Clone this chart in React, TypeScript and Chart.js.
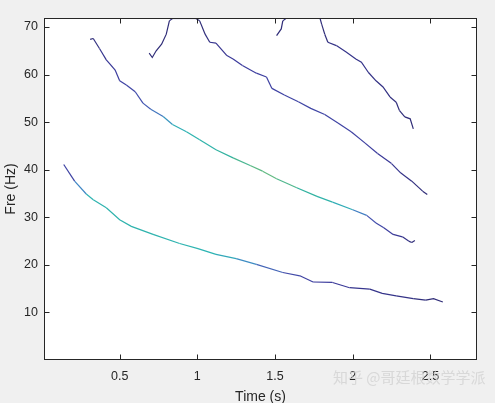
import React, { useEffect, useRef } from "react";
import { Chart, registerables } from "chart.js";

Chart.register(...registerables);

// ---- data ----
const X_TICKS = [0.5, 1, 1.5, 2, 2.5];
const Y_TICKS = [10, 20, 30, 40, 50, 60, 70];

const T1 = [0.14, 0.21, 0.285, 0.33, 0.414, 0.5, 0.575, 0.715, 0.886, 1.004, 1.12, 1.25, 1.38, 1.55, 1.66, 1.745, 1.87, 1.98, 2.11, 2.19, 2.28, 2.39, 2.47, 2.52, 2.58];
const F1 = [41.1, 37.6, 34.9, 33.7, 32.0, 29.5, 28.1, 26.4, 24.5, 23.4, 22.2, 21.3, 20.1, 18.4, 17.7, 16.4, 16.3, 15.2, 14.9, 14.0, 13.5, 12.9, 12.6, 12.9, 12.2];
const A1 = [0.1, 0.3, 0.6, 0.63, 0.65, 0.65, 0.65, 0.65, 0.63, 0.62, 0.6, 0.52, 0.42, 0.28, 0.22, 0.16, 0.15, 0.12, 0.1, 0.1, 0.1, 0.08, 0.05, 0.05, 0.05];

const T2 = [0.31, 0.33, 0.37, 0.414, 0.47, 0.5, 0.543, 0.6, 0.65, 0.7, 0.78, 0.84, 0.93, 1.015, 1.12, 1.23, 1.34, 1.42, 1.51, 1.64, 1.77, 1.87, 2.0, 2.09, 2.15, 2.2, 2.26, 2.32, 2.36, 2.38, 2.4];
const F2 = [67.4, 67.6, 65.5, 63.1, 61.0, 58.7, 57.8, 56.4, 54.0, 52.7, 51.2, 49.5, 48.0, 46.3, 44.2, 42.5, 40.9, 39.7, 38.1, 36.2, 34.4, 33.2, 31.6, 30.4, 28.8, 27.8, 26.4, 25.9, 25.0, 24.7, 25.1];
const A2 = [0.05, 0.05, 0.1, 0.12, 0.15, 0.2, 0.2, 0.25, 0.3, 0.35, 0.45, 0.55, 0.62, 0.65, 0.7, 0.8, 0.9, 0.95, 0.95, 0.8, 0.7, 0.65, 0.5, 0.35, 0.25, 0.2, 0.15, 0.1, 0.08, 0.05, 0.05];

const T3 = [0.69, 0.71, 0.735, 0.77, 0.8, 0.82, 0.84, 0.99, 1.015, 1.05, 1.08, 1.12, 1.19, 1.23, 1.29, 1.38, 1.445, 1.48, 1.56, 1.65, 1.73, 1.82, 1.905, 1.99, 2.08, 2.16, 2.25, 2.31, 2.38, 2.45, 2.48];
const F3 = [64.5, 63.6, 65.0, 66.4, 68.5, 71.3, 71.8, 71.8, 71.3, 68.5, 66.8, 66.6, 64.0, 63.3, 61.9, 60.3, 59.5, 57.1, 55.7, 54.3, 52.9, 51.6, 49.8, 48.0, 45.6, 43.4, 41.3, 39.3, 37.6, 35.5, 34.8];
const A3 = [0.05, 0.05, 0.05, 0.05, 0.05, 0.05, 0.08, 0.08, 0.05, 0.05, 0.1, 0.12, 0.12, 0.15, 0.15, 0.18, 0.18, 0.2, 0.2, 0.22, 0.22, 0.22, 0.2, 0.2, 0.18, 0.15, 0.12, 0.1, 0.08, 0.05, 0.05];

const T4 = [1.51, 1.54, 1.55, 1.57, 1.79, 1.8, 1.82, 1.84, 1.895, 1.96, 2.02, 2.056, 2.1, 2.15, 2.195, 2.24, 2.28, 2.3, 2.335, 2.37, 2.39];
const F4 = [68.2, 69.6, 71.3, 71.8, 71.8, 70.6, 68.5, 66.8, 66.1, 64.7, 63.3, 62.6, 60.5, 58.7, 57.4, 55.3, 54.2, 52.5, 51.1, 50.7, 48.6];
const A4 = [0.05, 0.05, 0.05, 0.08, 0.08, 0.05, 0.05, 0.08, 0.1, 0.1, 0.1, 0.1, 0.1, 0.08, 0.08, 0.08, 0.06, 0.06, 0.05, 0.05, 0.05];

const SERIES = [
  { t: T1, f: F1, a: A1 },
  { t: T2, f: F2, a: A2 },
  { t: T3, f: F3, a: A3 },
  { t: T4, f: F4, a: A4 },
];

// ---- colormap ----
const STOPS: [number, number[]][] = [
  [0.0, [42, 39, 102]],
  [0.15, [59, 58, 156]],
  [0.3, [69, 83, 176]],
  [0.45, [63, 134, 197]],
  [0.6, [45, 180, 180]],
  [0.75, [50, 178, 160]],
  [1.0, [110, 188, 122]],
];
function cmap(v: number): string {
  const x = Math.max(0, Math.min(1, v));
  for (let i = 0; i < STOPS.length - 1; i++) {
    const [a, ca] = STOPS[i];
    const [b, cb] = STOPS[i + 1];
    if (x <= b) {
      const k = (x - a) / (b - a);
      const c = ca.map((q, j) => Math.round(q + (cb[j] - q) * k));
      return `rgb(${c[0]},${c[1]},${c[2]})`;
    }
  }
  const c = STOPS[STOPS.length - 1][1];
  return `rgb(${c[0]},${c[1]},${c[2]})`;
}

const TEXT = "#262626";
const FONT = "'Liberation Sans', Arial, sans-serif";

const framePlugin = {
  id: "frame",
  beforeDatasetsDraw(chart: any) {
    const { ctx, chartArea: a } = chart;
    ctx.save();
    ctx.fillStyle = "#ffffff";
    ctx.fillRect(a.left, a.top, a.right - a.left, a.bottom - a.top);
    ctx.restore();
  },
  afterDatasetsDraw(chart: any) {
    const { ctx, chartArea: a, scales } = chart;
    ctx.save();
    ctx.strokeStyle = TEXT;
    ctx.lineWidth = 1;
    const L = Math.round(a.left) + 0.5;
    const R = Math.round(a.right) - 0.5;
    const T = Math.round(a.top) + 0.5;
    const B = Math.round(a.bottom) - 0.5;
    ctx.strokeRect(L, T, R - L, B - T);
    const len = 5;
    ctx.beginPath();
    for (const v of X_TICKS) {
      const px = Math.round(scales.x.getPixelForValue(v)) + 0.5;
      ctx.moveTo(px, B);
      ctx.lineTo(px, B - len);
      ctx.moveTo(px, T);
      ctx.lineTo(px, T + len);
    }
    for (const v of Y_TICKS) {
      const py = Math.round(scales.y.getPixelForValue(v)) + 0.5;
      ctx.moveTo(L, py);
      ctx.lineTo(L + len, py);
      ctx.moveTo(R, py);
      ctx.lineTo(R - len, py);
    }
    ctx.stroke();
    ctx.restore();
  },
  afterDraw(chart: any) {
    const { ctx } = chart;
    ctx.save();
    ctx.font = `15px 'Noto Sans CJK SC', sans-serif`;
    ctx.textBaseline = "middle";
    ctx.textAlign = "left";
    ctx.fillStyle = "rgba(210,210,210,0.8)";
    ctx.fillText("知乎 @哥廷根数学学派", 333, 377);
    ctx.restore();
  },
};

export default function App() {
  const ref = useRef<HTMLCanvasElement | null>(null);
  useEffect(() => {
    document.body.style.margin = "0";
    const canvas = ref.current!;
    const datasets = SERIES.map((s) => ({
      data: s.t.map((t, i) => ({ x: t, y: s.f[i] })),
      borderColor: cmap(s.a[0]),
      borderWidth: 1.2,
      pointRadius: 0,
      tension: 0,
      fill: false,
      segment: {
        borderColor: (c: any) => cmap((s.a[c.p0DataIndex] + s.a[c.p1DataIndex]) / 2),
      },
    }));
    const chart = new Chart(canvas, {
      type: "line",
      data: { datasets },
      options: {
        animation: false,
        responsive: false,
        devicePixelRatio: 1,
        layout: { padding: { top: 18, right: 18, left: 0, bottom: 0 } },
        plugins: { legend: { display: false }, tooltip: { enabled: false } },
        scales: {
          x: {
            type: "linear",
            min: 0.013,
            max: 2.8,
            grid: { display: false, drawTicks: false },
            border: { display: false },
            afterBuildTicks: (sc: any) => {
              sc.ticks = X_TICKS.map((v) => ({ value: v }));
            },
            afterFit: (sc: any) => {
              sc.height = 43;
            },
            ticks: {
              autoSkip: false,
              maxRotation: 0,
              padding: 9,
              color: TEXT,
              font: { family: FONT, size: 12.5 },
              callback: (v: any) => String(v),
            },
            title: {
              display: true,
              text: "Time (s)",
              color: TEXT,
              font: { family: FONT, size: 14 },
              padding: { top: 0, bottom: -3 },
            },
          },
          y: {
            type: "linear",
            min: 0,
            max: 71.9,
            grid: { display: false, drawTicks: false },
            border: { display: false },
            afterBuildTicks: (sc: any) => {
              sc.ticks = Y_TICKS.map((v) => ({ value: v }));
            },
            afterFit: (sc: any) => {
              sc.width = 44;
            },
            ticks: {
              autoSkip: false,
              padding: 6,
              color: TEXT,
              font: { family: FONT, size: 12.5 },
              callback: (v: any) => String(v),
            },
            title: {
              display: true,
              text: "Fre (Hz)",
              color: TEXT,
              font: { family: FONT, size: 14 },
              padding: { top: 3, bottom: 0 },
            },
          },
        },
      },
      plugins: [framePlugin],
    } as any);
    return () => chart.destroy();
  }, []);
  return (
    <div style={{ position: "fixed", left: 0, top: 0, width: 495, height: 403, background: "#f0f0f0" }}>
      <canvas ref={ref} width={495} height={403} style={{ display: "block" }} />
    </div>
  );
}
